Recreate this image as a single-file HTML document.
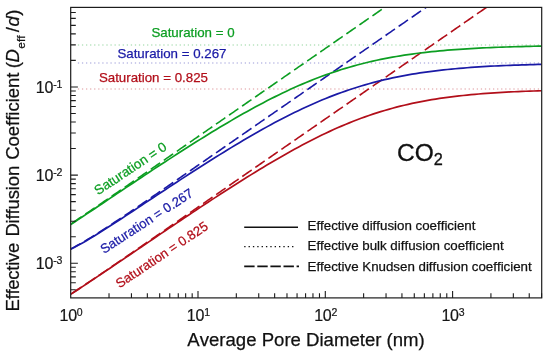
<!DOCTYPE html>
<html><head><meta charset="utf-8"><title>Effective Diffusion Coefficient</title>
<style>
html,body{margin:0;padding:0;background:#fff;}
body{width:550px;height:354px;overflow:hidden;}
svg{display:block;font-family:"Liberation Sans",Arial,sans-serif;font-variant-ligatures:none;font-kerning:none;}
</style></head><body>
<svg width="550" height="354" viewBox="0 0 550 354">
<rect width="550" height="354" fill="#ffffff"/>
<defs><clipPath id="plot"><rect x="70.70" y="7.40" width="471.00" height="290.50"/></clipPath></defs>

<g clip-path="url(#plot)" fill="none">
<line x1="78.50" y1="44.99" x2="541.70" y2="44.99" stroke="#0c9e22" stroke-width="1.5" stroke-linecap="round" stroke-dasharray="0.01 4.06" stroke-opacity="0.34"/>
<line x1="78.50" y1="63.01" x2="541.70" y2="63.01" stroke="#1a1aa6" stroke-width="1.5" stroke-linecap="round" stroke-dasharray="0.01 4.06" stroke-opacity="0.34"/>
<line x1="78.50" y1="89.12" x2="541.70" y2="89.12" stroke="#b20f1a" stroke-width="1.5" stroke-linecap="round" stroke-dasharray="0.01 4.06" stroke-opacity="0.34"/>
<polyline points="70.70,224.00 72.66,222.70 74.62,221.40 76.59,220.09 78.55,218.78 80.51,217.47 82.47,216.15 84.43,214.83 86.40,213.51 88.36,212.18 90.32,210.85 92.28,209.52 94.24,208.19 96.21,206.85 98.17,205.52 100.13,204.18 102.09,202.84 104.05,201.50 106.02,200.15 107.98,198.81 109.94,197.46 111.90,196.12 113.86,194.77 115.83,193.42 117.79,192.07 119.75,190.72 121.71,189.37 123.67,188.02 125.64,186.67 127.60,185.32 129.56,183.97 131.52,182.62 133.48,181.26 135.45,179.91 137.41,178.55 139.37,177.20 141.33,175.85 143.29,174.49 145.26,173.13 147.22,171.78 149.18,170.42 151.14,169.07 153.10,167.71 155.07,166.36 157.03,165.00 158.99,163.64 160.95,162.28 162.91,160.93 164.88,159.57 166.84,158.21 168.80,156.86 170.76,155.50 172.72,154.14 174.69,152.78 176.65,151.43 178.61,150.07 180.57,148.71 182.53,147.35 184.50,145.99 186.46,144.64 188.42,143.28 190.38,141.92 192.34,140.56 194.31,139.20 196.27,137.85 198.23,136.49 200.19,135.13 202.15,133.77 204.12,132.41 206.08,131.06 208.04,129.70 210.00,128.34 211.96,126.98 213.93,125.62 215.89,124.26 217.85,122.90 219.81,121.55 221.77,120.19 223.74,118.83 225.70,117.47 227.66,116.11 229.62,114.75 231.58,113.40 233.55,112.04 235.51,110.68 237.47,109.32 239.43,107.96 241.39,106.60 243.36,105.24 245.32,103.89 247.28,102.53 249.24,101.17 251.20,99.81 253.17,98.45 255.13,97.09 257.09,95.73 259.05,94.38 261.01,93.02 262.98,91.66 264.94,90.30 266.90,88.94 268.86,87.58 270.82,86.22 272.79,84.87 274.75,83.51 276.71,82.15 278.67,80.79 280.63,79.43 282.60,78.07 284.56,76.71 286.52,75.36 288.48,74.00 290.44,72.64 292.41,71.28 294.37,69.92 296.33,68.56 298.29,67.20 300.25,65.85 302.22,64.49 304.18,63.13 306.14,61.77 308.10,60.41 310.06,59.05 312.03,57.69 313.99,56.34 315.95,54.98 317.91,53.62 319.87,52.26 321.84,50.90 323.80,49.54 325.76,48.18 327.72,46.83 329.68,45.47 331.65,44.11 333.61,42.75 335.57,41.39 337.53,40.03 339.49,38.67 341.46,37.32 343.42,35.96 345.38,34.60 347.34,33.24 349.30,31.88 351.27,30.52 353.23,29.16 355.19,27.81 357.15,26.45 359.11,25.09 361.08,23.73 363.04,22.37 365.00,21.01 366.96,19.65 368.92,18.29 370.89,16.94 372.85,15.58 374.81,14.22 376.77,12.86 378.73,11.50 380.70,10.14 382.66,8.78 384.62,7.43 386.58,6.07 388.54,4.71 390.51,3.35 392.47,1.99 394.43,0.63 396.39,-0.73 398.35,-2.08 400.32,-3.44 402.28,-4.80 404.24,-6.16 406.20,-7.52 408.16,-8.88 410.13,-10.24 412.09,-11.59 414.05,-12.95 416.01,-14.31 417.97,-15.67 419.94,-17.03 421.90,-18.39 423.86,-19.75 425.82,-21.10 427.78,-22.46 429.75,-23.82 431.71,-25.18 433.67,-26.54 435.63,-27.90 437.59,-29.26 439.56,-30.61 441.52,-31.97 443.48,-33.33 445.44,-34.69 447.40,-36.05 449.37,-37.41 451.33,-38.77 453.29,-40.12 455.25,-41.48 457.21,-42.84 459.18,-44.20 461.14,-45.56 463.10,-46.92 465.06,-48.28 467.02,-49.64 468.99,-50.99 470.95,-52.35 472.91,-53.71 474.87,-55.07 476.83,-56.43 478.80,-57.79 480.76,-59.15 482.72,-60.50 484.68,-61.86 486.64,-63.22 488.61,-64.58 490.57,-65.94 492.53,-67.30 494.49,-68.66 496.45,-70.01 498.41,-71.37 500.38,-72.73 502.34,-74.09 504.30,-75.45 506.26,-76.81 508.22,-78.17 510.19,-79.52 512.15,-80.88 514.11,-82.24 516.07,-83.60 518.03,-84.96 520.00,-86.32 521.96,-87.68 523.92,-89.03 525.88,-90.39 527.84,-91.75 529.81,-93.11 531.77,-94.47 533.73,-95.83 535.69,-97.19 537.65,-98.54 539.62,-99.90 541.58,-101.26" stroke="#0c9e22" stroke-width="1.6" stroke-dasharray="11.4 4.46" stroke-dashoffset="14.07"/>
<polyline points="70.70,248.90 72.66,247.89 74.62,246.85 76.59,245.79 78.55,244.71 80.51,243.60 82.47,242.48 84.43,241.34 86.40,240.18 88.36,239.00 90.32,237.82 92.28,236.62 94.24,235.40 96.21,234.18 98.17,232.95 100.13,231.71 102.09,230.45 104.05,229.19 106.02,227.93 107.98,226.65 109.94,225.37 111.90,224.09 113.86,222.79 115.83,221.50 117.79,220.20 119.75,218.89 121.71,217.58 123.67,216.27 125.64,214.95 127.60,213.63 129.56,212.31 131.52,210.98 133.48,209.65 135.45,208.32 137.41,206.99 139.37,205.66 141.33,204.32 143.29,202.98 145.26,201.64 147.22,200.30 149.18,198.96 151.14,197.61 153.10,196.27 155.07,194.92 157.03,193.58 158.99,192.23 160.95,190.88 162.91,189.53 164.88,188.18 166.84,186.83 168.80,185.48 170.76,184.13 172.72,182.78 174.69,181.42 176.65,180.07 178.61,178.72 180.57,177.36 182.53,176.01 184.50,174.65 186.46,173.30 188.42,171.94 190.38,170.59 192.34,169.23 194.31,167.88 196.27,166.52 198.23,165.16 200.19,163.81 202.15,162.45 204.12,161.09 206.08,159.74 208.04,158.38 210.00,157.02 211.96,155.67 213.93,154.31 215.89,152.95 217.85,151.59 219.81,150.24 221.77,148.88 223.74,147.52 225.70,146.16 227.66,144.80 229.62,143.45 231.58,142.09 233.55,140.73 235.51,139.37 237.47,138.01 239.43,136.66 241.39,135.30 243.36,133.94 245.32,132.58 247.28,131.22 249.24,129.87 251.20,128.51 253.17,127.15 255.13,125.79 257.09,124.43 259.05,123.07 261.01,121.71 262.98,120.36 264.94,119.00 266.90,117.64 268.86,116.28 270.82,114.92 272.79,113.56 274.75,112.21 276.71,110.85 278.67,109.49 280.63,108.13 282.60,106.77 284.56,105.41 286.52,104.05 288.48,102.70 290.44,101.34 292.41,99.98 294.37,98.62 296.33,97.26 298.29,95.90 300.25,94.54 302.22,93.19 304.18,91.83 306.14,90.47 308.10,89.11 310.06,87.75 312.03,86.39 313.99,85.03 315.95,83.68 317.91,82.32 319.87,80.96 321.84,79.60 323.80,78.24 325.76,76.88 327.72,75.52 329.68,74.17 331.65,72.81 333.61,71.45 335.57,70.09 337.53,68.73 339.49,67.37 341.46,66.01 343.42,64.66 345.38,63.30 347.34,61.94 349.30,60.58 351.27,59.22 353.23,57.86 355.19,56.50 357.15,55.15 359.11,53.79 361.08,52.43 363.04,51.07 365.00,49.71 366.96,48.35 368.92,46.99 370.89,45.64 372.85,44.28 374.81,42.92 376.77,41.56 378.73,40.20 380.70,38.84 382.66,37.48 384.62,36.13 386.58,34.77 388.54,33.41 390.51,32.05 392.47,30.69 394.43,29.33 396.39,27.97 398.35,26.62 400.32,25.26 402.28,23.90 404.24,22.54 406.20,21.18 408.16,19.82 410.13,18.46 412.09,17.10 414.05,15.75 416.01,14.39 417.97,13.03 419.94,11.67 421.90,10.31 423.86,8.95 425.82,7.59 427.78,6.24 429.75,4.88 431.71,3.52 433.67,2.16 435.63,0.80 437.59,-0.56 439.56,-1.92 441.52,-3.27 443.48,-4.63 445.44,-5.99 447.40,-7.35 449.37,-8.71 451.33,-10.07 453.29,-11.43 455.25,-12.78 457.21,-14.14 459.18,-15.50 461.14,-16.86 463.10,-18.22 465.06,-19.58 467.02,-20.94 468.99,-22.29 470.95,-23.65 472.91,-25.01 474.87,-26.37 476.83,-27.73 478.80,-29.09 480.76,-30.45 482.72,-31.80 484.68,-33.16 486.64,-34.52 488.61,-35.88 490.57,-37.24 492.53,-38.60 494.49,-39.96 496.45,-41.31 498.41,-42.67 500.38,-44.03 502.34,-45.39 504.30,-46.75 506.26,-48.11 508.22,-49.47 510.19,-50.83 512.15,-52.18 514.11,-53.54 516.07,-54.90 518.03,-56.26 520.00,-57.62 521.96,-58.98 523.92,-60.34 525.88,-61.69 527.84,-63.05 529.81,-64.41 531.77,-65.77 533.73,-67.13 535.69,-68.49 537.65,-69.85 539.62,-71.20 541.58,-72.56" stroke="#1a1aa6" stroke-width="1.6" stroke-dasharray="11.4 4.46" stroke-dashoffset="0.15"/>
<polyline points="70.70,294.09 72.66,292.83 74.62,291.55 76.59,290.27 78.55,288.98 80.51,287.69 82.47,286.39 84.43,285.09 86.40,283.78 88.36,282.47 90.32,281.16 92.28,279.84 94.24,278.52 96.21,277.20 98.17,275.87 100.13,274.54 102.09,273.21 104.05,271.88 106.02,270.55 107.98,269.21 109.94,267.87 111.90,266.53 113.86,265.19 115.83,263.85 117.79,262.50 119.75,261.16 121.71,259.81 123.67,258.47 125.64,257.12 127.60,255.77 129.56,254.42 131.52,253.07 133.48,251.72 135.45,250.37 137.41,249.02 139.37,247.67 141.33,246.31 143.29,244.96 145.26,243.61 147.22,242.25 149.18,240.90 151.14,239.54 153.10,238.19 155.07,236.83 157.03,235.48 158.99,234.12 160.95,232.77 162.91,231.41 164.88,230.05 166.84,228.70 168.80,227.34 170.76,225.98 172.72,224.63 174.69,223.27 176.65,221.91 178.61,220.55 180.57,219.20 182.53,217.84 184.50,216.48 186.46,215.12 188.42,213.77 190.38,212.41 192.34,211.05 194.31,209.69 196.27,208.34 198.23,206.98 200.19,205.62 202.15,204.26 204.12,202.90 206.08,201.54 208.04,200.19 210.00,198.83 211.96,197.47 213.93,196.11 215.89,194.75 217.85,193.40 219.81,192.04 221.77,190.68 223.74,189.32 225.70,187.96 227.66,186.60 229.62,185.24 231.58,183.89 233.55,182.53 235.51,181.17 237.47,179.81 239.43,178.45 241.39,177.09 243.36,175.74 245.32,174.38 247.28,173.02 249.24,171.66 251.20,170.30 253.17,168.94 255.13,167.58 257.09,166.23 259.05,164.87 261.01,163.51 262.98,162.15 264.94,160.79 266.90,159.43 268.86,158.07 270.82,156.72 272.79,155.36 274.75,154.00 276.71,152.64 278.67,151.28 280.63,149.92 282.60,148.56 284.56,147.21 286.52,145.85 288.48,144.49 290.44,143.13 292.41,141.77 294.37,140.41 296.33,139.05 298.29,137.70 300.25,136.34 302.22,134.98 304.18,133.62 306.14,132.26 308.10,130.90 310.06,129.54 312.03,128.19 313.99,126.83 315.95,125.47 317.91,124.11 319.87,122.75 321.84,121.39 323.80,120.03 325.76,118.68 327.72,117.32 329.68,115.96 331.65,114.60 333.61,113.24 335.57,111.88 337.53,110.52 339.49,109.17 341.46,107.81 343.42,106.45 345.38,105.09 347.34,103.73 349.30,102.37 351.27,101.01 353.23,99.66 355.19,98.30 357.15,96.94 359.11,95.58 361.08,94.22 363.04,92.86 365.00,91.50 366.96,90.14 368.92,88.79 370.89,87.43 372.85,86.07 374.81,84.71 376.77,83.35 378.73,81.99 380.70,80.63 382.66,79.28 384.62,77.92 386.58,76.56 388.54,75.20 390.51,73.84 392.47,72.48 394.43,71.12 396.39,69.77 398.35,68.41 400.32,67.05 402.28,65.69 404.24,64.33 406.20,62.97 408.16,61.61 410.13,60.26 412.09,58.90 414.05,57.54 416.01,56.18 417.97,54.82 419.94,53.46 421.90,52.10 423.86,50.75 425.82,49.39 427.78,48.03 429.75,46.67 431.71,45.31 433.67,43.95 435.63,42.59 437.59,41.24 439.56,39.88 441.52,38.52 443.48,37.16 445.44,35.80 447.40,34.44 449.37,33.08 451.33,31.73 453.29,30.37 455.25,29.01 457.21,27.65 459.18,26.29 461.14,24.93 463.10,23.57 465.06,22.21 467.02,20.86 468.99,19.50 470.95,18.14 472.91,16.78 474.87,15.42 476.83,14.06 478.80,12.70 480.76,11.35 482.72,9.99 484.68,8.63 486.64,7.27 488.61,5.91 490.57,4.55 492.53,3.19 494.49,1.84 496.45,0.48 498.41,-0.88 500.38,-2.24 502.34,-3.60 504.30,-4.96 506.26,-6.32 508.22,-7.67 510.19,-9.03 512.15,-10.39 514.11,-11.75 516.07,-13.11 518.03,-14.47 520.00,-15.83 521.96,-17.18 523.92,-18.54 525.88,-19.90 527.84,-21.26 529.81,-22.62 531.77,-23.98 533.73,-25.34 535.69,-26.69 537.65,-28.05 539.62,-29.41 541.58,-30.77" stroke="#b20f1a" stroke-width="1.6" stroke-dasharray="11.4 4.46" stroke-dashoffset="14.02"/>
<polyline points="70.70,224.49 74.62,221.92 78.55,219.34 82.47,216.75 86.40,214.14 90.32,211.53 94.24,208.92 98.17,206.29 102.09,203.67 106.02,201.04 109.94,198.41 113.86,195.78 117.79,193.16 121.71,190.53 125.64,187.91 129.56,185.29 133.48,182.67 137.41,180.06 141.33,177.45 145.26,174.85 149.18,172.25 153.10,169.66 157.03,167.08 160.95,164.51 164.88,161.94 168.80,159.39 172.72,156.84 176.65,154.31 180.57,151.78 184.50,149.27 188.42,146.77 192.34,144.28 196.27,141.81 200.19,139.36 204.12,136.92 208.04,134.49 211.96,132.09 215.89,129.70 219.81,127.33 223.74,124.99 227.66,122.66 231.58,120.36 235.51,118.08 239.43,115.83 243.36,113.60 247.28,111.40 251.20,109.23 255.13,107.09 259.05,104.98 262.98,102.90 266.90,100.86 270.82,98.85 274.75,96.87 278.67,94.93 282.60,93.03 286.52,91.17 290.44,89.35 294.37,87.57 298.29,85.82 302.22,84.13 306.14,82.47 310.06,80.86 313.99,79.29 317.91,77.76 321.84,76.28 325.76,74.85 329.68,73.46 333.61,72.12 337.53,70.82 341.46,69.56 345.38,68.36 349.30,67.19 353.23,66.07 357.15,65.00 361.08,63.96 365.00,62.97 368.92,62.02 372.85,61.12 376.77,60.25 380.70,59.42 384.62,58.63 388.54,57.87 392.47,57.15 396.39,56.47 400.32,55.82 404.24,55.20 408.16,54.61 412.09,54.06 416.01,53.53 419.94,53.03 423.86,52.55 427.78,52.11 431.71,51.68 435.63,51.28 439.56,50.91 443.48,50.55 447.40,50.21 451.33,49.90 455.25,49.60 459.18,49.31 463.10,49.05 467.02,48.80 470.95,48.56 474.87,48.34 478.80,48.13 482.72,47.94 486.64,47.76 490.57,47.58 494.49,47.42 498.41,47.27 502.34,47.13 506.26,46.99 510.19,46.86 514.11,46.75 518.03,46.64 521.96,46.53 525.88,46.43 529.81,46.34 533.73,46.26 537.65,46.18 541.58,46.10" stroke="#0c9e22" stroke-width="1.7" stroke-linejoin="round"/>
<polyline points="70.70,249.26 74.62,247.23 78.55,245.11 82.47,242.91 86.40,240.64 90.32,238.31 94.24,235.94 98.17,233.52 102.09,231.06 106.02,228.58 109.94,226.07 113.86,223.54 117.79,220.99 121.71,218.43 125.64,215.86 129.56,213.28 133.48,210.69 137.41,208.10 141.33,205.50 145.26,202.91 149.18,200.31 153.10,197.71 157.03,195.12 160.95,192.53 164.88,189.94 168.80,187.36 172.72,184.78 176.65,182.22 180.57,179.65 184.50,177.10 188.42,174.55 192.34,172.02 196.27,169.49 200.19,166.98 204.12,164.48 208.04,161.99 211.96,159.52 215.89,157.06 219.81,154.61 223.74,152.19 227.66,149.78 231.58,147.39 235.51,145.02 239.43,142.66 243.36,140.34 247.28,138.03 251.20,135.75 255.13,133.49 259.05,131.26 262.98,129.06 266.90,126.88 270.82,124.74 274.75,122.62 278.67,120.54 282.60,118.49 286.52,116.48 290.44,114.50 294.37,112.56 298.29,110.66 302.22,108.79 306.14,106.97 310.06,105.18 313.99,103.44 317.91,101.74 321.84,100.08 325.76,98.47 329.68,96.90 333.61,95.38 337.53,93.90 341.46,92.47 345.38,91.09 349.30,89.74 353.23,88.45 357.15,87.20 361.08,86.00 365.00,84.84 368.92,83.72 372.85,82.65 376.77,81.63 380.70,80.64 384.62,79.70 388.54,78.80 392.47,77.94 396.39,77.12 400.32,76.33 404.24,75.59 408.16,74.87 412.09,74.20 416.01,73.56 419.94,72.95 423.86,72.37 427.78,71.82 431.71,71.30 435.63,70.81 439.56,70.34 443.48,69.90 447.40,69.49 451.33,69.10 455.25,68.73 459.18,68.38 463.10,68.05 467.02,67.74 470.95,67.45 474.87,67.17 478.80,66.91 482.72,66.67 486.64,66.44 490.57,66.22 494.49,66.02 498.41,65.83 502.34,65.65 506.26,65.49 510.19,65.33 514.11,65.18 518.03,65.04 521.96,64.91 525.88,64.79 529.81,64.68 533.73,64.57 537.65,64.47 541.58,64.38" stroke="#1a1aa6" stroke-width="1.7" stroke-linejoin="round"/>
<polyline points="70.70,294.27 74.62,291.74 78.55,289.18 82.47,286.61 86.40,284.02 90.32,281.41 94.24,278.79 98.17,276.16 102.09,273.52 106.02,270.88 109.94,268.23 113.86,265.57 117.79,262.91 121.71,260.25 125.64,257.59 129.56,254.93 133.48,252.26 137.41,249.60 141.33,246.94 145.26,244.28 149.18,241.62 153.10,238.96 157.03,236.30 160.95,233.65 164.88,231.00 168.80,228.36 172.72,225.72 176.65,223.09 180.57,220.46 184.50,217.83 188.42,215.21 192.34,212.60 196.27,210.00 200.19,207.40 204.12,204.81 208.04,202.23 211.96,199.66 215.89,197.10 219.81,194.55 223.74,192.02 227.66,189.49 231.58,186.98 235.51,184.48 239.43,181.99 243.36,179.53 247.28,177.07 251.20,174.64 255.13,172.22 259.05,169.82 262.98,167.45 266.90,165.09 270.82,162.76 274.75,160.45 278.67,158.17 282.60,155.91 286.52,153.69 290.44,151.49 294.37,149.32 298.29,147.18 302.22,145.08 306.14,143.01 310.06,140.97 313.99,138.97 317.91,137.02 321.84,135.10 325.76,133.22 329.68,131.38 333.61,129.58 337.53,127.83 341.46,126.13 345.38,124.47 349.30,122.85 353.23,121.28 357.15,119.76 361.08,118.29 365.00,116.86 368.92,115.49 372.85,114.16 376.77,112.88 380.70,111.65 384.62,110.46 388.54,109.32 392.47,108.23 396.39,107.19 400.32,106.19 404.24,105.23 408.16,104.32 412.09,103.45 416.01,102.62 419.94,101.83 423.86,101.08 427.78,100.37 431.71,99.70 435.63,99.06 439.56,98.46 443.48,97.88 447.40,97.34 451.33,96.83 455.25,96.35 459.18,95.90 463.10,95.47 467.02,95.07 470.95,94.69 474.87,94.33 478.80,93.99 482.72,93.68 486.64,93.38 490.57,93.10 494.49,92.84 498.41,92.60 502.34,92.37 506.26,92.16 510.19,91.96 514.11,91.77 518.03,91.59 521.96,91.43 525.88,91.27 529.81,91.13 533.73,90.99 537.65,90.87 541.58,90.75" stroke="#b20f1a" stroke-width="1.7" stroke-linejoin="round"/>
</g>
<g stroke="#1c1c1c" stroke-width="1.2" fill="none">
<rect x="70.70" y="7.40" width="471.00" height="290.50"/>
<path d="M109.02 297.90v-4.70 M131.44 297.90v-4.70 M147.34 297.90v-4.70 M159.68 297.90v-4.70 M169.76 297.90v-4.70 M178.28 297.90v-4.70 M185.66 297.90v-4.70 M192.18 297.90v-4.70 M198.00 297.90v-7.00 M236.32 297.90v-4.70 M258.74 297.90v-4.70 M274.64 297.90v-4.70 M286.98 297.90v-4.70 M297.06 297.90v-4.70 M305.58 297.90v-4.70 M312.96 297.90v-4.70 M319.48 297.90v-4.70 M325.30 297.90v-7.00 M363.62 297.90v-4.70 M386.04 297.90v-4.70 M401.94 297.90v-4.70 M414.28 297.90v-4.70 M424.36 297.90v-4.70 M432.88 297.90v-4.70 M440.26 297.90v-4.70 M446.78 297.90v-4.70 M452.60 297.90v-7.00 M490.92 297.90v-4.70 M513.34 297.90v-4.70 M529.24 297.90v-4.70 M541.58 297.90v-4.70 M70.70 289.79h5.10 M70.70 282.81h5.10 M70.70 276.90h5.10 M70.70 271.79h5.10 M70.70 267.28h5.10 M70.70 263.25h7.20 M70.70 236.71h5.10 M70.70 221.19h5.10 M70.70 210.18h5.10 M70.70 201.64h5.10 M70.70 194.66h5.10 M70.70 188.75h5.10 M70.70 183.64h5.10 M70.70 179.13h5.10 M70.70 175.10h7.20 M70.70 148.56h5.10 M70.70 133.04h5.10 M70.70 122.03h5.10 M70.70 113.49h5.10 M70.70 106.51h5.10 M70.70 100.60h5.10 M70.70 95.49h5.10 M70.70 90.98h5.10 M70.70 86.95h7.20 M70.70 60.41h5.10 M70.70 44.89h5.10 M70.70 33.88h5.10 M70.70 25.34h5.10 M70.70 18.36h5.10 M70.70 12.45h5.10" stroke-width="1.1"/>
</g>
<g fill="#151515" font-size="16" letter-spacing="-0.25" stroke="#151515" stroke-width="0.2">
<text x="71.00" y="320.8" text-anchor="middle">10<tspan font-size="10.5" dy="-5.2">0</tspan></text>
<text x="198.30" y="320.8" text-anchor="middle">10<tspan font-size="10.5" dy="-5.2">1</tspan></text>
<text x="325.60" y="320.8" text-anchor="middle">10<tspan font-size="10.5" dy="-5.2">2</tspan></text>
<text x="452.90" y="320.8" text-anchor="middle">10<tspan font-size="10.5" dy="-5.2">3</tspan></text>
<text x="62" y="92.75" text-anchor="end">10<tspan font-size="10.5" dy="-5.2">-1</tspan></text>
<text x="62" y="180.90" text-anchor="end">10<tspan font-size="10.5" dy="-5.2">-2</tspan></text>
<text x="62" y="269.05" text-anchor="end">10<tspan font-size="10.5" dy="-5.2">-3</tspan></text>
</g>
<text x="187.3" y="345.7" font-size="18.58" fill="#111" stroke="#111" stroke-width="0.25">Average Pore Diameter (nm)</text>
<g font-size="18.5" fill="#111" stroke="#111" stroke-width="0.25">
<text transform="translate(19.3,311.6) rotate(-90)" letter-spacing="-0.25">Effective</text>
<text transform="translate(19.3,236.6) rotate(-90)" letter-spacing="-0.14">Diffusion</text>
<text transform="translate(19.3,159.8) rotate(-90)" letter-spacing="-0.02">Coefficient</text>
<text transform="translate(19.3,68.2) rotate(-90)">(<tspan font-style="italic" dx="-0.4">D</tspan><tspan font-size="11.8" dy="5.3" dx="0.4">eff</tspan><tspan dy="-5.3" dx="3.4">/</tspan><tspan font-style="italic" dx="0.6">d</tspan><tspan dx="0.3">)</tspan></text>
</g>
<g font-size="13.5" stroke-width="0.25">
<text x="151.4" y="36.8" font-size="13.3" fill="#0c9e22" stroke="#0c9e22">Saturation = 0</text>
<text x="117.4" y="58.0" font-size="13.3" fill="#1a1aa6" stroke="#1a1aa6">Saturation = 0.267</text>
<text x="98.9" y="81.8" font-size="13.3" fill="#b20f1a" stroke="#b20f1a">Saturation = 0.825</text>
<text transform="translate(98,195.5) rotate(-33.6)" font-size="13.4" fill="#0c9e22" stroke="#0c9e22">Saturation = 0</text>
<text transform="translate(104,254) rotate(-33.0)" font-size="13.1" fill="#1a1aa6" stroke="#1a1aa6">Saturation = 0.267</text>
<text transform="translate(119.5,288.5) rotate(-33.8)" font-size="13.15" fill="#b20f1a" stroke="#b20f1a">Saturation = 0.825</text>
</g>
<text x="397" y="160.8" font-size="24.5" fill="#111" stroke="#111" stroke-width="0.3">CO<tspan font-size="16.3" dy="4.2">2</tspan></text>
<g stroke="#111" stroke-width="1.5" fill="none">
<line x1="244.2" y1="227.2" x2="298" y2="227.2" stroke-width="1.6"/>
<line x1="244.2" y1="246.6" x2="294" y2="246.6" stroke-dasharray="1.35 3" stroke-width="1.3"/>
<line x1="244.2" y1="266.4" x2="299" y2="266.4" stroke-dasharray="10.4 2.7" stroke-width="1.6"/>
</g>
<g font-size="13.32" fill="#111" stroke="#111" stroke-width="0.25">
<text x="307.5" y="230.1">Effective diffusion coefficient</text>
<text x="307.5" y="250.3">Effective bulk diffusion coefficient</text>
<text x="307.5" y="271.1">Effective Knudsen diffusion coefficient</text>
</g>
</svg></body></html>
